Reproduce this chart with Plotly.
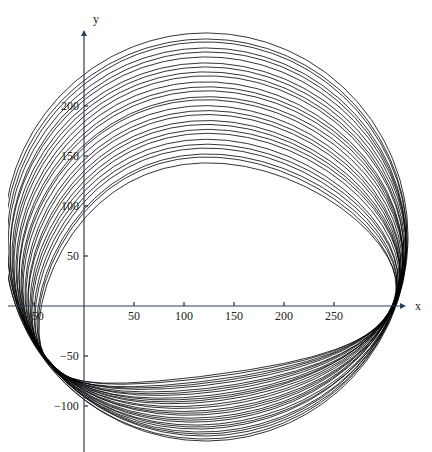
import numpy as np
import plotly.graph_objects as go

# per-loop shape parameters (inner -> outer)
cx = [134,133,133,132,132,131,131,131,130,130,129,129,128,128,128,127,127,126,126,125,125,125,124,124,123,123,122,122]
ax = [179,179,180,181,182,183,184,185,186,186,187,188,189,190,191,192,192,193,194,195,196,197,198,198,199,200,201,202]
qx = [-30,-29,-28,-27,-26,-24,-23,-22,-21,-20,-19,-18,-17,-16,-14,-13,-12,-11,-10,-9,-8,-7,-6,-4,-3,-2,-1,0]
cy = [-3,0,2,5,8,10,13,16,18,21,24,26,29,32,34,37,40,42,45,48,50,53,56,58,61,64,66,69]
dd = [20,19,19,18,17,16,16,15,14,13,13,12,11,10,10,9,8,7,7,6,5,4,4,3,2,1,1,0]
bs = [107,111,114,118,121,125,129,132,136,139,143,146,150,154,157,161,164,168,172,175,179,182,186,190,193,197,200,204]
ry = [38,37,35,34,32,31,30,28,27,25,24,23,21,20,18,17,15,14,13,11,10,8,7,6,4,3,1,0]

x_ticks = [-50, 50, 100, 150, 200, 250]
y_ticks = [-100, -50, 50, 100, 150, 200]

t = np.linspace(0, 2*np.pi, 400)
s, c = np.sin(t), np.cos(t)
xs, ys = [], []
for i in range(len(cx)):
    xs += list(cx[i] + ax[i]*c + qx[i]*s**2) + [None]
    ys += list(cy[i] + dd[i]*c + bs[i]*s + ry[i]*s**2) + [None]

fig = go.Figure(go.Scatter(x=xs, y=ys, mode='lines', line=dict(color='black', width=0.8),
                           hoverinfo='skip'))

font = dict(family='Liberation Serif', size=12, color='#222')
shapes = []
ann = []
for v in x_ticks:
    shapes.append(dict(type='line', x0=v, x1=v, y0=0, y1=4, line=dict(color='black', width=1)))
    ann.append(dict(x=v, y=0, text=str(v).replace('-', '\u2212'), showarrow=False,
                    yshift=-10, font=font))
for v in y_ticks:
    shapes.append(dict(type='line', x0=0, x1=4, y0=v, y1=v, line=dict(color='black', width=1)))
    ann.append(dict(x=0, y=v, text=str(v).replace('-', '\u2212'), showarrow=False,
                    xanchor='right', xshift=-3, font=font))
# axes with arrows
ann.append(dict(x=322, y=0, ax=-84, ay=0, axref='x', ayref='y', xref='x', yref='y',
                showarrow=True, arrowhead=2, arrowsize=1, arrowwidth=1.2, text=''))
ann.append(dict(x=0, y=276, ax=0, ay=-154, axref='x', ayref='y', xref='x', yref='y',
                showarrow=True, arrowhead=2, arrowsize=1, arrowwidth=1.2, text=''))
ann.append(dict(x=334, y=0, text='x', showarrow=False, font=font))
ann.append(dict(x=0, y=287, text='y', showarrow=False, xshift=12, font=font))

fig.update_layout(width=432, height=452, margin=dict(l=0, r=0, t=0, b=0),
                  plot_bgcolor='white', paper_bgcolor='white', showlegend=False,
                  shapes=shapes, annotations=ann)
fig.update_xaxes(range=[-76, 356], visible=False)
fig.update_yaxes(range=[-154, 298], visible=False)
fig.write_html("out.html")
